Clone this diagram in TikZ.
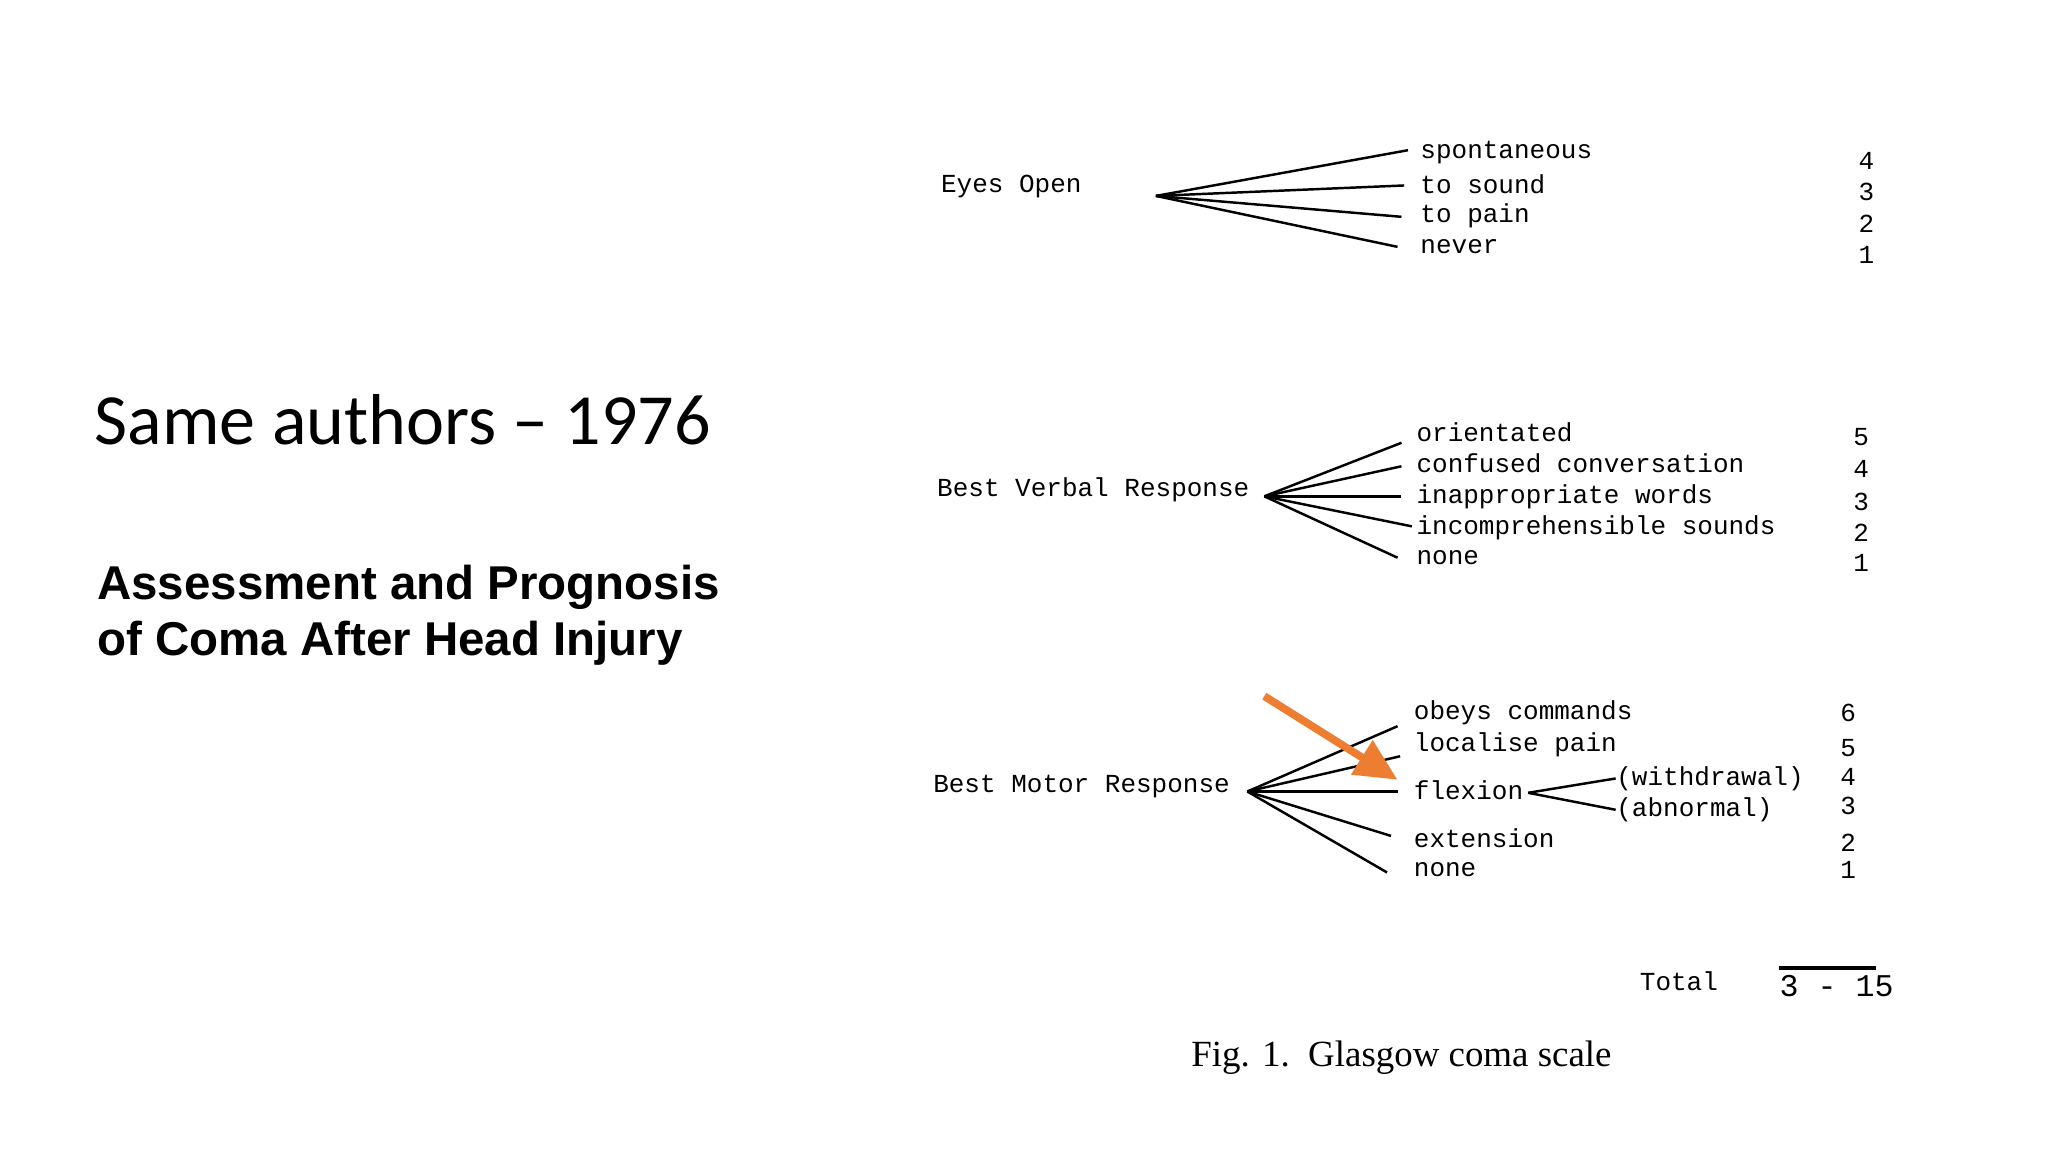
\documentclass[tikz,border=0pt]{standalone}
\usepackage{fontspec}
\setmainfont{Liberation Serif}
\newfontfamily\titlefont{Carlito}
\newfontfamily\subfont{Liberation Sans}
\newfontfamily\twfont{Liberation Mono}
\usetikzlibrary{arrows.meta}
\definecolor{org}{RGB}{237,125,49}
\begin{document}
\begin{tikzpicture}[x=0.013061cm,y=-0.013061cm,
 tw/.style={anchor=west,inner sep=0,font=\twfont\fontsize{7.4}{8}\selectfont},
 sc/.style={anchor=center,inner sep=0,font=\twfont\fontsize{7.4}{8}\selectfont},
 br/.style={line width=0.7pt}]
\useasboundingbox[fill=white] (0,0) rectangle (1568,882);
\node[anchor=west,inner sep=0,font=\titlefont\fontsize{20.5}{24}\selectfont] (title) at (72,321) {Same authors – 1976};
\node[anchor=north west,inner sep=0,align=left,font=\subfont\bfseries\fontsize{13.5}{16}\selectfont] (sub) at (74,432) {Assessment and Prognosis\\of Coma After Head Injury};
% Eyes
\node[tw] (eo) at (720,143) {Eyes Open};
\coordinate (h1) at (885,150);
\foreach \i/\t/\y/\ex/\ey/\s in {1/spontaneous/117/1078/115/4,2/to sound/141/1075/142/3,3/to pain/165/1073/166/2,4/never/189/1070/189/1}{
 \node[tw] (e\i) at (1087,\y) {\t};
 \coordinate (ee\i) at (\ex,\ey);
 \draw[br] (h1) -- (ee\i);
 \node[sc] (es\i) at (1429,\y+6) {\s};}
% Verbal
\node[tw] (bv) at (717,375) {Best Verbal Response};
\coordinate (h2) at (968,380);
\foreach \i/\t/\y/\ex/\ey/\s in {1/orientated/331/1073/339/5,2/confused conversation/355/1073/357/4,3/inappropriate words/380/1073/380/3,4/incomprehensible sounds/404/1081/403/2,5/none/427/1070/427/1}{
 \node[tw] (v\i) at (1084,\y) {\t};
 \coordinate (ve\i) at (\ex,\ey);
 \draw[br] (h2) -- (ve\i);
 \node[sc] (vs\i) at (1425,\y+4) {\s};}
% Motor
\node[tw] (bm) at (714,602) {Best Motor Response};
\coordinate (h3) at (955,606);
\foreach \i/\t/\y/\ex/\ey/\s/\sy in {1/obeys commands/546/1070/556/6/546,2/localise pain/570/1072/579/5/573,3/flexion/605/1070/606/4/595,4/extension/642/1065/640/3/617,5/none/666/1062/668/2/645}{
 \node[tw] (m\i) at (1082,\y) {\t};
 \coordinate (me\i) at (\ex,\ey);
 \draw[br] (h3) -- (me\i);
 \node[sc] (ms\i) at (1415,\sy) {\s};}
\node[sc] (ms6) at (1415,666) {1};
\coordinate (fh) at (1170,607);
\node[tw] (wd) at (1237,596) {(withdrawal)};
\node[tw] (ab) at (1237,620) {(abnormal)};
\draw[br] (fh) -- (wd.west);
\draw[br] (fh) -- (ab.west);
\coordinate (a0) at (968,533);
\coordinate (a1) at (1070,597);
\draw[org,line width=2.2pt,-{Triangle[length=12pt,width=11pt]}] (a0) -- (a1);
% total
\node[tw] (tot) at (1255,751) {Total};
\node[tw,font=\twfont\fontsize{9}{10}\selectfont] (rng) at (1362,755) {3 - 15};
\draw[line width=1pt] (1362,741) -- (1436,741);
\node[inner sep=0,font=\fontsize{10.5}{12}\selectfont] (cap) at (1073,810) {Fig. 1.\ \ Glasgow coma scale};
\end{tikzpicture}
\end{document}
